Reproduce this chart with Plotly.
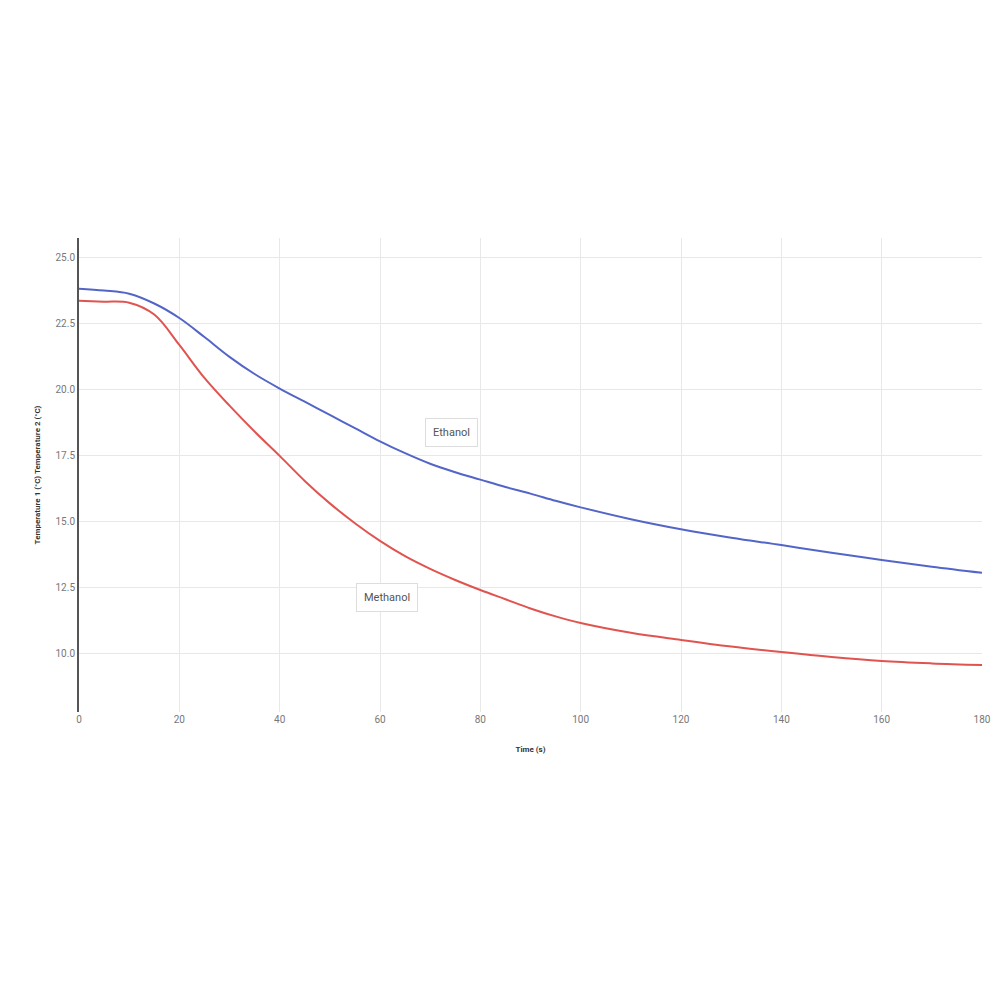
import plotly.graph_objects as go

time_s = [0, 5, 10, 15, 20, 25, 30, 35, 40, 45, 50, 55, 60, 65, 70, 75, 80, 85, 90, 95, 100,
          110, 120, 130, 140, 150, 160, 170, 180]
ethanol = [23.83, 23.76, 23.64, 23.27, 22.72, 22.0, 21.25, 20.6, 20.05, 19.55, 19.05, 18.55, 18.05, 17.6, 17.2,
           16.88, 16.6, 16.32, 16.07, 15.8, 15.55, 15.1, 14.72, 14.4, 14.12, 13.83, 13.56, 13.3, 13.07]
methanol = [23.37, 23.34, 23.3, 22.85, 21.7, 20.45, 19.4, 18.42, 17.5, 16.55, 15.7, 14.95, 14.28, 13.7, 13.22,
            12.8, 12.42, 12.07, 11.72, 11.42, 11.17, 10.8, 10.53, 10.28, 10.07, 9.88, 9.73, 9.64, 9.58]

fig = go.Figure()
fig.add_trace(go.Scatter(x=time_s, y=ethanol, mode="lines", name="Ethanol",
                         line=dict(color="#5366c8", width=2, shape="spline", smoothing=1.0)))
fig.add_trace(go.Scatter(x=time_s, y=methanol, mode="lines", name="Methanol",
                         line=dict(color="#e05450", width=2, shape="spline", smoothing=1.0)))

for txt, ax, ay in [("Ethanol", 74.3, 18.37), ("Methanol", 61.4, 12.12)]:
    fig.add_annotation(x=ax, y=ay, text=txt, showarrow=False,
                       font=dict(family="Roboto", size=11, color="#555555"),
                       bgcolor="white", bordercolor="#dddddd", borderwidth=1, borderpad=7)

fig.update_layout(
    width=1000, height=1000, showlegend=False,
    paper_bgcolor="white", plot_bgcolor="white",
    margin=dict(l=71, r=26, t=230, b=296),
    font=dict(family="Roboto", color="#666666"),
)
fig.update_xaxes(range=[0, 180], dtick=20, tick0=0, showgrid=True, gridcolor="#e8e8e8",
                 zeroline=False, showline=False, ticks="", tickfont=dict(size=10, color="#777777"),
                 title=dict(text="<b>Time (s)</b>", font=dict(size=8, color="#333333"), standoff=22))
fig.update_yaxes(range=[7.8, 25.75], dtick=2.5, tick0=0, tickformat=".1f", showgrid=True, gridcolor="#e8e8e8",
                 zeroline=False, showline=True, linecolor="#555555", linewidth=2, ticks="",
                 tickfont=dict(size=10, color="#777777"),
                 title=dict(text="<b>Temperature 1 (°C) Temperature 2 (°C)</b>",
                            font=dict(size=8, color="#333333"), standoff=14))

fig.write_html("out.html")
